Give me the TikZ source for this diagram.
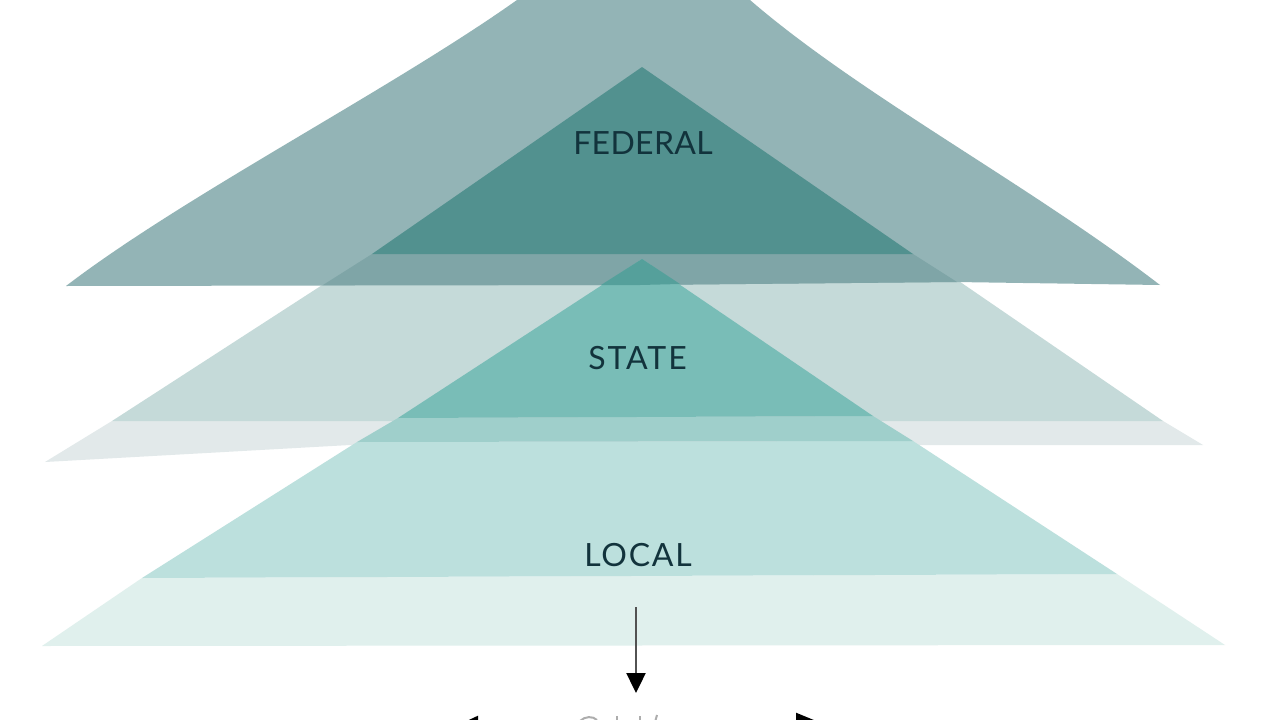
\documentclass[tikz,border=0pt]{standalone}
\usepackage{fontspec}
\setmainfont{Lato}
\usetikzlibrary{arrows.meta}
\definecolor{topfill}{HTML}{93B4B6}
\definecolor{fedfill}{HTML}{52918F}
\definecolor{fedband}{HTML}{7FA5A7}
\definecolor{statelight}{HTML}{C5DAD9}
\definecolor{stateband}{HTML}{E2E9EA}
\definecolor{statemid}{HTML}{79BDB7}
\definecolor{statemidband}{HTML}{9FCFCB}
\definecolor{stateapex}{HTML}{55A09B}
\definecolor{localfill}{HTML}{BCE0DD}
\definecolor{localband}{HTML}{E0F0ED}
\definecolor{labelink}{HTML}{12333C}
\tikzset{
  flat/.style={draw=none},
  levellabel/.style={text=labelink,inner sep=0pt,anchor=center},
  flowarrow/.style={draw=black!68,line width=2.4pt},
  stub/.style={draw=black!32,line width=2pt}
}
\newfontfamily\labfed[LetterSpace=1]{Lato}
\newfontfamily\labstate[LetterSpace=6]{Lato}
\newfontfamily\lablocal[LetterSpace=5.5]{Lato}
\begin{document}
\begin{tikzpicture}[x=1pt,y=-1pt]
\useasboundingbox (0,0) rectangle (1280,720);
\clip (0,0) rectangle (1280,720);
\fill[white] (0,0) rectangle (1280,720);
% state layer, back
\fill[stateband,flat] (45,462) -- (112,421) -- (1163,421) -- (1203,445) -- (350,445) -- cycle;
\fill[statelight,flat] (112,421) -- (330,280) -- (950,275) -- (1163,421) -- cycle;
% top shape
\fill[topfill,flat] (66,286) .. controls (185,195) and (390,90) .. (517,0) -- (750,0)
   .. controls (860,95) and (1030,185) .. (1160,285) -- (955,282) -- (640,285) -- cycle;
\fill[fedband,flat] (323,285) -- (372,254) -- (913,254) -- (957,282) -- (640,285) -- cycle;
\fill[fedfill,flat] (642,67) -- (372,254) -- (913,254) -- cycle;
% local layer
\fill[localband,flat] (42,646) -- (142,578) -- (1117,574) -- (1225,645) -- cycle;
\fill[localfill,flat] (142,578) -- (357,442) -- (913,441) -- (1117,574) -- cycle;
% state middle
\fill[statemidband,flat] (357,442) -- (398,418) -- (873,416) -- (913,441) -- cycle;
\fill[statemid,flat] (642,259) -- (398,418) -- (873,416) -- cycle;
\fill[stateapex,flat] (642,259) -- (601,285) -- (640,285) -- (680,284) -- cycle;
% labels
\node[levellabel,font=\labfed\fontsize{32}{34}\selectfont] (federal) at (643,143) {FEDERAL};
\node[levellabel,font=\labstate\fontsize{32}{34}\selectfont] (state) at (637.5,358) {STATE};
\node[levellabel,font=\lablocal\fontsize{32}{34}\selectfont] (local) at (638,555) {LOCAL};
% arrows
\coordinate (downstart) at (636,607);
\coordinate (downend) at (636,693);
\draw[flowarrow,-{Triangle[width=19pt,length=20pt,color=black]}] (downstart) -- (downend);
\coordinate (leftstart) at (560,726);
\coordinate (leftend) at (456,726);
\coordinate (rightstart) at (720,725);
\coordinate (rightend) at (826,725);
\draw[flowarrow,-{Triangle[width=20pt,length=22pt,color=black]}] (leftstart) -- (leftend);
\draw[flowarrow,-{Triangle[width=24pt,length=30pt,color=black]}] (rightstart) -- (rightend);
% tops of the cut-off text
\draw[stub] (580,721) .. controls (585,716) and (593,716) .. (597,720);
\draw[stub] (617,716) -- (617,722);
\draw[stub] (640,716) -- (640,722);
\draw[stub] (657,715) -- (655,722);
\end{tikzpicture}
\end{document}
